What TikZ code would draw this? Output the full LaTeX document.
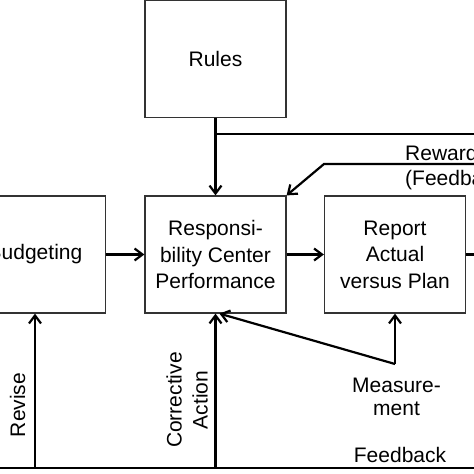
\documentclass[tikz,border=0pt]{standalone}
\usepackage{fontspec}
\setmainfont{Liberation Sans}
\usetikzlibrary{arrows.meta}
\begin{document}
\begin{tikzpicture}[x=1pt,y=-1pt,
 box/.style={draw=black!80, line width=1.2pt, minimum width=141pt, minimum height=117pt, inner sep=0pt, align=center, font=\fontsize{21}{26.5}\selectfont},
 arr/.style={line width=2.2pt, -{Straight Barb[length=8pt,width=12pt]}},
 ln/.style={line width=2.2pt},
 lbl/.style={font=\fontsize{21}{25}\selectfont, align=center, inner sep=0pt}]
\useasboundingbox (0,0) rectangle (474,474);
\clip (0,0) rectangle (474,474);
\fill[white] (0,0) rectangle (474,474);
% boxes
\node[box] (rules) at (215.5,59) {Rules};
\node[box] (resp) at (215.5,254.5) {Responsi-\\bility Center\\Performance};
\node[box] (rep) at (395,254.5) {Report\\Actual\\versus Plan};
\node[box] (bud) at (35,254.5) {Budgeting};
% coordinates
\coordinate (rj) at (215.5,134);
\coordinate (re) at (480,134);
\coordinate (rw1) at (480,164);
\coordinate (rw2) at (324,164);
\coordinate (out) at (480,254.5);
\coordinate (bl) at (-5,468);
\coordinate (br) at (480,468);
\coordinate (rv) at (bud.south |- bl);
\coordinate (ca) at (resp.south |- bl);
\coordinate (mv) at (395,364);
\coordinate (mt) at ([xshift=4pt]resp.south);
% connectors
\draw[arr] (rules.south) -- (resp.north);
\draw[ln] (rj) -- (re);
\draw[arr] (rw1) -- (rw2) -- (resp.north east);
\draw[arr] (bud.east) -- (resp.west);
\draw[arr] (resp.east) -- (rep.west);
\draw[ln] (rep.east) -- (out);
\draw[ln] (bl) -- (br);
\draw[arr] (rv) -- (bud.south);
\draw[arr] (ca) -- (resp.south);
\draw[arr] (mv) -- (rep.south);
\draw[arr] (mv) -- (mt);
% labels
\node[lbl, anchor=west] (rwd) at (405,153) {Reward};
\node[lbl, anchor=west] (fb1) at (405,180) {(Feedback)};
\node[lbl, font=\fontsize{21}{23}\selectfont] (meas) at (396.5,396.5) {Measure-\\ment};
\node[lbl] (fb2) at (400,455) {Feedback};
\node[lbl, rotate=90] (rev) at (17.5,405) {Revise};
\node[lbl, rotate=90, font=\fontsize{21}{26}\selectfont] (cor) at (187,400) {Corrective\\Action};
\end{tikzpicture}
\end{document}
